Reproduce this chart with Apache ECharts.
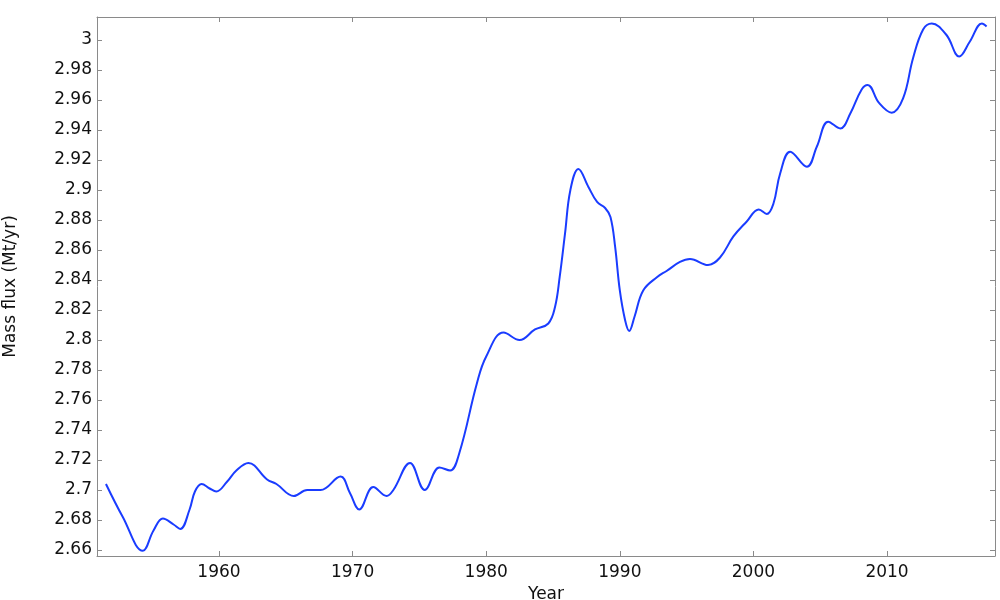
<!DOCTYPE html>
<html>
<head>
<meta charset="utf-8">
<script src="https://cdn.jsdelivr.net/npm/echarts@6/dist/echarts.min.js"></script>
<style>
html,body{margin:0;padding:0;background:#fff;}
#chart{width:1000px;height:600px;}
</style>
</head>
<body>
<div id="chart"></div>
<script>
const years = [1951.54,1952.8,1954.3,1955.1,1955.8,1956.6,1957.1,1957.8,1958.2,1958.7,1959.3,1959.8,1960.6,1961.3,1962.2,1963.6,1964.3,1965.6,1966.6,1967.6,1969.1,1969.8,1970.5,1971.55,1972.55,1973.05,1974.3,1975.4,1976.5,1977.3,1978.0,1979.3,1980.0,1981.3,1982.5,1983.65,1984.65,1985.15,1985.5,1985.9,1986.3,1986.9,1987.65,1988.3,1988.9,1989.3,1989.65,1990.0,1990.4,1990.7,1991.1,1991.75,1992.8,1993.5,1994.5,1995.25,1996.6,1997.5,1998.5,1999.5,2000.4,2001.0,2001.5,2002.0,2002.75,2004.0,2004.75,2005.6,2006.5,2007.25,2008.1,2008.55,2009.4,2010.35,2011.2,2011.95,2012.7,2013.35,2014.45,2015.4,2016.2,2017.1,2017.45];
const massFlux = [2.704,2.682,2.6595,2.673,2.681,2.677,2.674,2.687,2.699,2.704,2.701,2.699,2.7055,2.713,2.718,2.707,2.704,2.696,2.700,2.700,2.709,2.698,2.687,2.702,2.696,2.700,2.718,2.700,2.715,2.713,2.725,2.771,2.789,2.805,2.800,2.807,2.811,2.822,2.842,2.871,2.900,2.914,2.902,2.892,2.888,2.882,2.862,2.833,2.813,2.806,2.8155,2.833,2.842,2.846,2.852,2.854,2.850,2.855,2.869,2.879,2.887,2.884,2.891,2.911,2.9255,2.9155,2.929,2.9455,2.941,2.951,2.967,2.970,2.958,2.9515,2.961,2.988,3.007,3.011,3.0033,2.989,2.999,3.011,3.009];
const xTicks = [1960,1970,1980,1990,2000,2010];
const yTicks = [2.66,2.68,2.7,2.72,2.74,2.76,2.78,2.8,2.82,2.84,2.86,2.88,2.9,2.92,2.94,2.96,2.98,3];
const xTitle = 'Year';
const yTitle = 'Mass flux (Mt/yr)';

const pts = years.map((y,i)=>[y, massFlux[i]]);
const font = 'DejaVu Sans';
const axisCol = '#8a8a8a';
const txtCol = '#111';
const xr = {min:1950.87, max:2018.08};
const yr = {min:2.656, max:3.0153};

function mkX(extra){
  return Object.assign({
    type:'value', min:xr.min, max:xr.max,
    axisLine:{show:true,lineStyle:{color:axisCol,width:1}},
    axisTick:{inside:true,length:5,lineStyle:{color:axisCol},customValues:xTicks},
    axisLabel:{fontFamily:font,fontSize:17,color:txtCol,margin:8,customValues:xTicks,formatter:v=>String(v)},
    splitLine:{show:false}
  }, extra);
}
function mkY(extra){
  return Object.assign({
    type:'value', min:yr.min, max:yr.max,
    axisLine:{show:true,lineStyle:{color:axisCol,width:1}},
    axisTick:{inside:true,length:5,lineStyle:{color:axisCol},customValues:yTicks},
    axisLabel:{fontFamily:font,fontSize:17,color:txtCol,margin:5,customValues:yTicks,
      formatter:v=>String(parseFloat(Number(v).toFixed(3)))},
    splitLine:{show:false}
  }, extra);
}

const chart = echarts.init(document.getElementById('chart'));
chart.setOption({
  animation:false,
  grid:{left:97,right:5,top:17,bottom:44,containLabel:false,outerBoundsMode:'none'},
  xAxis:[
    mkX({name:xTitle, nameLocation:'middle', nameGap:20,
      nameTextStyle:{fontFamily:font,fontSize:17,color:txtCol}}),
    mkX({position:'top', axisLabel:{show:false}})
  ],
  yAxis:[
    mkY({name:yTitle, nameLocation:'middle', nameGap:78, nameRotate:90,
      nameTextStyle:{fontFamily:font,fontSize:17,color:txtCol}}),
    mkY({position:'right', axisLabel:{show:false}})
  ],
  series:[{
    type:'line', data:pts, smooth:0.4, showSymbol:false,
    lineStyle:{color:'#1a3cff',width:2}, xAxisIndex:0, yAxisIndex:0
  }]
});
</script>
</body>
</html>
